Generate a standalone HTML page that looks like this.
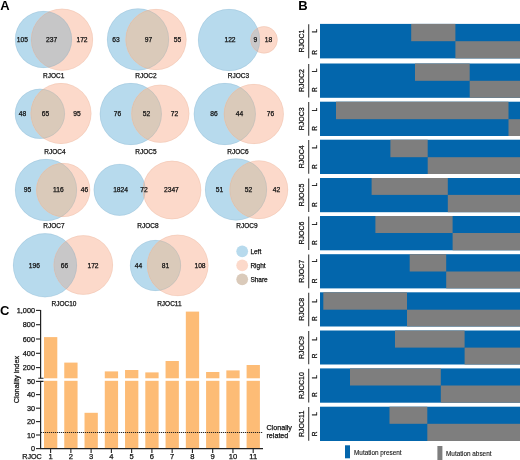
<!DOCTYPE html>
<html><head><meta charset="utf-8"><title>Figure</title>
<style>
html,body{margin:0;padding:0;background:#fff;overflow:hidden;}
#fig{width:520px;height:460px;overflow:hidden;position:relative;background:#fff;}
svg{display:block;filter:blur(0.35px);font-family:"Liberation Sans",Arial,sans-serif;}
text{fill:#111;stroke:#111;stroke-width:0.25px;}
.n{font-size:6.7px;text-anchor:middle;}
.l{font-size:6.5px;text-anchor:middle;}
.p{font-size:13px;font-weight:bold;fill:#000;stroke:none;}
.t{font-size:7.3px;text-anchor:end;}
.x{font-size:7.6px;text-anchor:middle;}
.r{font-size:7px;text-anchor:middle;}
.lr{font-size:6.5px;text-anchor:middle;}
</style></head><body>
<div id="fig"><svg width="530" height="470" viewBox="0 0 530 470">
<rect x="-5" y="-5" width="540" height="480" fill="#fff"/>
<defs>
<clipPath id="c0"><circle cx="43.5" cy="39.5" r="28.5"/></clipPath>
<clipPath id="c1"><circle cx="138" cy="39.4" r="31"/></clipPath>
<clipPath id="c2"><circle cx="229" cy="40" r="31"/></clipPath>
<clipPath id="c3"><circle cx="39.9" cy="113.8" r="25"/></clipPath>
<clipPath id="c4"><circle cx="130.8" cy="114" r="31"/></clipPath>
<clipPath id="c5"><circle cx="224.8" cy="114" r="31"/></clipPath>
<clipPath id="c6"><circle cx="46" cy="190" r="31"/></clipPath>
<clipPath id="c7"><circle cx="119.6" cy="189.8" r="25.9"/></clipPath>
<clipPath id="c8"><circle cx="236" cy="189.4" r="31"/></clipPath>
<clipPath id="c9"><circle cx="45" cy="265.3" r="32"/></clipPath>
<clipPath id="c10"><circle cx="155.5" cy="265.5" r="25.5"/></clipPath>
</defs>
<g>
<circle cx="43.5" cy="39.5" r="28.5" fill="#B7DAED"/>
<circle cx="62" cy="39.7" r="31" fill="#FCD9CA"/>
<circle cx="62" cy="39.7" r="31" fill="#C6C6C7" clip-path="url(#c0)"/>
<circle cx="43.5" cy="39.5" r="28.2" fill="none" stroke="rgba(110,150,180,0.28)" stroke-width="0.6"/>
<circle cx="62" cy="39.7" r="30.7" fill="none" stroke="rgba(215,150,120,0.28)" stroke-width="0.6"/>
<text class="n" x="22.4" y="42.1">105</text>
<text class="n" x="51.6" y="42.1">237</text>
<text class="n" x="82" y="42.1">172</text>
<text class="l" x="53.6" y="78.3">RJOC1</text>
</g>
<g>
<circle cx="138" cy="39.4" r="31" fill="#B7DAED"/>
<circle cx="156" cy="39.5" r="30.5" fill="#FCD9CA"/>
<circle cx="156" cy="39.5" r="30.5" fill="#DACABA" clip-path="url(#c1)"/>
<circle cx="138" cy="39.4" r="30.7" fill="none" stroke="rgba(110,150,180,0.28)" stroke-width="0.6"/>
<circle cx="156" cy="39.5" r="30.2" fill="none" stroke="rgba(215,150,120,0.28)" stroke-width="0.6"/>
<text class="n" x="116" y="42.1">63</text>
<text class="n" x="148.6" y="42.1">97</text>
<text class="n" x="177.4" y="42.1">55</text>
<text class="l" x="146" y="78.3">RJOC2</text>
</g>
<g>
<circle cx="229" cy="40" r="31" fill="#B7DAED"/>
<circle cx="264" cy="39.8" r="13.6" fill="#FCD9CA"/>
<circle cx="264" cy="39.8" r="13.6" fill="#CAC8C9" clip-path="url(#c2)"/>
<circle cx="229" cy="40" r="30.7" fill="none" stroke="rgba(110,150,180,0.28)" stroke-width="0.6"/>
<circle cx="264" cy="39.8" r="13.299999999999999" fill="none" stroke="rgba(215,150,120,0.28)" stroke-width="0.6"/>
<text class="n" x="230" y="42.1">122</text>
<text class="n" x="255.4" y="42.1">9</text>
<text class="n" x="268.4" y="42.1">18</text>
<text class="l" x="238.4" y="78.3">RJOC3</text>
</g>
<g>
<circle cx="39.9" cy="113.8" r="25" fill="#B7DAED"/>
<circle cx="61" cy="113.5" r="30.4" fill="#FCD9CA"/>
<circle cx="61" cy="113.5" r="30.4" fill="#DACABA" clip-path="url(#c3)"/>
<circle cx="39.9" cy="113.8" r="24.7" fill="none" stroke="rgba(110,150,180,0.28)" stroke-width="0.6"/>
<circle cx="61" cy="113.5" r="30.099999999999998" fill="none" stroke="rgba(215,150,120,0.28)" stroke-width="0.6"/>
<text class="n" x="22.4" y="116.1">48</text>
<text class="n" x="45.4" y="116.1">65</text>
<text class="n" x="77" y="116.1">95</text>
<text class="l" x="55" y="153.9">RJOC4</text>
</g>
<g>
<circle cx="130.8" cy="114" r="31" fill="#B7DAED"/>
<circle cx="160.3" cy="113.7" r="29" fill="#FCD9CA"/>
<circle cx="160.3" cy="113.7" r="29" fill="#DACABA" clip-path="url(#c4)"/>
<circle cx="130.8" cy="114" r="30.7" fill="none" stroke="rgba(110,150,180,0.28)" stroke-width="0.6"/>
<circle cx="160.3" cy="113.7" r="28.7" fill="none" stroke="rgba(215,150,120,0.28)" stroke-width="0.6"/>
<text class="n" x="117.6" y="116.1">76</text>
<text class="n" x="146.4" y="116.1">52</text>
<text class="n" x="174.4" y="116.1">72</text>
<text class="l" x="146" y="153.9">RJOC5</text>
</g>
<g>
<circle cx="224.8" cy="114" r="31" fill="#B7DAED"/>
<circle cx="253.8" cy="114" r="30" fill="#FCD9CA"/>
<circle cx="253.8" cy="114" r="30" fill="#DACABA" clip-path="url(#c5)"/>
<circle cx="224.8" cy="114" r="30.7" fill="none" stroke="rgba(110,150,180,0.28)" stroke-width="0.6"/>
<circle cx="253.8" cy="114" r="29.7" fill="none" stroke="rgba(215,150,120,0.28)" stroke-width="0.6"/>
<text class="n" x="214" y="116.1">86</text>
<text class="n" x="239.6" y="116.1">44</text>
<text class="n" x="270.4" y="116.1">76</text>
<text class="l" x="238" y="153.9">RJOC6</text>
</g>
<g>
<circle cx="46" cy="190" r="31" fill="#B7DAED"/>
<circle cx="63.2" cy="190" r="27" fill="#FCD9CA"/>
<circle cx="63.2" cy="190" r="27" fill="#DACABA" clip-path="url(#c6)"/>
<circle cx="46" cy="190" r="30.7" fill="none" stroke="rgba(110,150,180,0.28)" stroke-width="0.6"/>
<circle cx="63.2" cy="190" r="26.7" fill="none" stroke="rgba(215,150,120,0.28)" stroke-width="0.6"/>
<text class="n" x="27.4" y="192.1">95</text>
<text class="n" x="58.4" y="192.1">116</text>
<text class="n" x="84.4" y="192.1">46</text>
<text class="l" x="54" y="227.9">RJOC7</text>
</g>
<g>
<circle cx="119.6" cy="189.8" r="25.9" fill="#B7DAED"/>
<circle cx="172" cy="190" r="29.2" fill="#FCD9CA"/>
<circle cx="172" cy="190" r="29.2" fill="#D2CAC6" clip-path="url(#c7)"/>
<circle cx="119.6" cy="189.8" r="25.599999999999998" fill="none" stroke="rgba(110,150,180,0.28)" stroke-width="0.6"/>
<circle cx="172" cy="190" r="28.9" fill="none" stroke="rgba(215,150,120,0.28)" stroke-width="0.6"/>
<text class="n" x="120.6" y="192.1">1824</text>
<text class="n" x="144" y="192.1">72</text>
<text class="n" x="171.4" y="192.1">2347</text>
<text class="l" x="148" y="227.9">RJOC8</text>
</g>
<g>
<circle cx="236" cy="189.4" r="31" fill="#B7DAED"/>
<circle cx="258.8" cy="189.7" r="29.3" fill="#FCD9CA"/>
<circle cx="258.8" cy="189.7" r="29.3" fill="#DACABA" clip-path="url(#c8)"/>
<circle cx="236" cy="189.4" r="30.7" fill="none" stroke="rgba(110,150,180,0.28)" stroke-width="0.6"/>
<circle cx="258.8" cy="189.7" r="29.0" fill="none" stroke="rgba(215,150,120,0.28)" stroke-width="0.6"/>
<text class="n" x="219.6" y="192.1">51</text>
<text class="n" x="248.6" y="192.1">52</text>
<text class="n" x="276.4" y="192.1">42</text>
<text class="l" x="247" y="227.9">RJOC9</text>
</g>
<g>
<circle cx="45" cy="265.3" r="32" fill="#B7DAED"/>
<circle cx="83.3" cy="265" r="29.7" fill="#FCD9CA"/>
<circle cx="83.3" cy="265" r="29.7" fill="#C8C7C8" clip-path="url(#c9)"/>
<circle cx="45" cy="265.3" r="31.7" fill="none" stroke="rgba(110,150,180,0.28)" stroke-width="0.6"/>
<circle cx="83.3" cy="265" r="29.4" fill="none" stroke="rgba(215,150,120,0.28)" stroke-width="0.6"/>
<text class="n" x="34.4" y="267.5">196</text>
<text class="n" x="64.6" y="267.5">66</text>
<text class="n" x="93" y="267.5">172</text>
<text class="l" x="64" y="306.3">RJOC10</text>
</g>
<g>
<circle cx="155.5" cy="265.5" r="25.5" fill="#B7DAED"/>
<circle cx="177.7" cy="265.4" r="30.7" fill="#FCD9CA"/>
<circle cx="177.7" cy="265.4" r="30.7" fill="#DACABA" clip-path="url(#c10)"/>
<circle cx="155.5" cy="265.5" r="25.2" fill="none" stroke="rgba(110,150,180,0.28)" stroke-width="0.6"/>
<circle cx="177.7" cy="265.4" r="30.4" fill="none" stroke="rgba(215,150,120,0.28)" stroke-width="0.6"/>
<text class="n" x="138.6" y="267.5">44</text>
<text class="n" x="165.4" y="267.5">81</text>
<text class="n" x="200" y="267.5">108</text>
<text class="l" x="169.4" y="306.3">RJOC11</text>
</g>
<circle cx="242.2" cy="251.3" r="5.9" fill="#B7DAED"/>
<text x="250.4" y="253.60000000000002" style="font-size:6.5px">Left</text>
<circle cx="242.2" cy="265.3" r="5.9" fill="#FCD9CA"/>
<text x="250.4" y="267.6" style="font-size:6.5px">Right</text>
<circle cx="242.2" cy="279.3" r="5.9" fill="#DACABA"/>
<text x="250.4" y="281.6" style="font-size:6.5px">Share</text>
<text class="p" x="0.3" y="9.6">A</text>
<text class="p" x="298.2" y="9.6">B</text>
<text class="p" x="0" y="315.3">C</text>
<rect x="44.00" y="337.1" width="13.3" height="111.50" fill="#FDBC76"/>
<rect x="64.26" y="362.6" width="13.3" height="86.00" fill="#FDBC76"/>
<rect x="84.52" y="412.8" width="13.3" height="35.80" fill="#FDBC76"/>
<rect x="104.78" y="371.4" width="13.3" height="77.20" fill="#FDBC76"/>
<rect x="125.04" y="370" width="13.3" height="78.60" fill="#FDBC76"/>
<rect x="145.30" y="372.4" width="13.3" height="76.20" fill="#FDBC76"/>
<rect x="165.56" y="361" width="13.3" height="87.60" fill="#FDBC76"/>
<rect x="185.82" y="311.6" width="13.3" height="137.00" fill="#FDBC76"/>
<rect x="206.08" y="372" width="13.3" height="76.60" fill="#FDBC76"/>
<rect x="226.34" y="370.4" width="13.3" height="78.20" fill="#FDBC76"/>
<rect x="246.60" y="365" width="13.3" height="83.60" fill="#FDBC76"/>
<rect x="41.5" y="378.3" width="222" height="2.5" fill="#fff"/>
<path d="M40.6 309.9 V378.2 M40.6 381.3 V449.1 M40.1 448.6 H263" stroke="#222" stroke-width="1.2" fill="none"/>
<path d="M36 310.4 H40.6" stroke="#222" stroke-width="1.1"/>
<path d="M36 324.7 H40.6" stroke="#222" stroke-width="1.1"/>
<path d="M36 339 H40.6" stroke="#222" stroke-width="1.1"/>
<path d="M36 353.3 H40.6" stroke="#222" stroke-width="1.1"/>
<path d="M36 367.6 H40.6" stroke="#222" stroke-width="1.1"/>
<path d="M36 381.4 H40.6" stroke="#222" stroke-width="1.1"/>
<path d="M36 394.6 H40.6" stroke="#222" stroke-width="1.1"/>
<path d="M36 408.2 H40.6" stroke="#222" stroke-width="1.1"/>
<path d="M36 421.6 H40.6" stroke="#222" stroke-width="1.1"/>
<path d="M36 435 H40.6" stroke="#222" stroke-width="1.1"/>
<path d="M36 448.6 H40.6" stroke="#222" stroke-width="1.1"/>
<path d="M38.3 378.2 H43.5 M40 381.4 H43.5" stroke="#222" stroke-width="1.1"/>
<text class="t" x="35" y="313.0">1,000</text>
<text class="t" x="35" y="327.3">800</text>
<text class="t" x="35" y="341.6">600</text>
<text class="t" x="35" y="355.90000000000003">400</text>
<text class="t" x="35" y="370.20000000000005">200</text>
<text class="t" x="35" y="384.20000000000005">50</text>
<text class="t" x="35" y="397.20000000000005">40</text>
<text class="t" x="35" y="410.8">30</text>
<text class="t" x="35" y="424.20000000000005">20</text>
<text class="t" x="35" y="437.6">10</text>
<text class="t" x="35" y="451.20000000000005">0</text>
<path d="M50.60 448.6 V453" stroke="#222" stroke-width="1.1"/>
<text class="x" x="50.60" y="459.4">1</text>
<path d="M70.86 448.6 V453" stroke="#222" stroke-width="1.1"/>
<text class="x" x="70.86" y="459.4">2</text>
<path d="M91.12 448.6 V453" stroke="#222" stroke-width="1.1"/>
<text class="x" x="91.12" y="459.4">3</text>
<path d="M111.38 448.6 V453" stroke="#222" stroke-width="1.1"/>
<text class="x" x="111.38" y="459.4">4</text>
<path d="M131.64 448.6 V453" stroke="#222" stroke-width="1.1"/>
<text class="x" x="131.64" y="459.4">5</text>
<path d="M151.90 448.6 V453" stroke="#222" stroke-width="1.1"/>
<text class="x" x="151.90" y="459.4">6</text>
<path d="M172.16 448.6 V453" stroke="#222" stroke-width="1.1"/>
<text class="x" x="172.16" y="459.4">7</text>
<path d="M192.42 448.6 V453" stroke="#222" stroke-width="1.1"/>
<text class="x" x="192.42" y="459.4">8</text>
<path d="M212.68 448.6 V453" stroke="#222" stroke-width="1.1"/>
<text class="x" x="212.68" y="459.4">9</text>
<path d="M232.94 448.6 V453" stroke="#222" stroke-width="1.1"/>
<text class="x" x="232.94" y="459.4">10</text>
<path d="M253.20 448.6 V453" stroke="#222" stroke-width="1.1"/>
<text class="x" x="253.20" y="459.4">11</text>
<text x="22.2" y="459" style="font-size:7.2px">RJOC</text>
<text class="r" style="font-size:7.3px" transform="translate(18.9 379.6) rotate(-90)">Clonality index</text>
<path d="M41 432.5 H263" stroke="#111" stroke-width="0.9" stroke-dasharray="1.2 0.8"/>
<text x="266.4" y="430" style="font-size:7.2px">Clonally</text>
<text x="266.4" y="438.2" style="font-size:7.2px">related</text>
<rect x="320" y="23.9" width="212" height="34.50" fill="#0366AC"/>
<rect x="411.2" y="23.9" width="44.20" height="17.30" fill="#7E7E7E"/>
<rect x="455.4" y="41.2" width="76.60" height="17.20" fill="#7E7E7E"/>
<path d="M308.7 24.299999999999997 V58.199999999999996" stroke="#3c3c3c" stroke-width="1.1"/>
<text class="r" transform="translate(303.8 41.15) rotate(-90)">RJOC1</text>
<text class="lr" transform="translate(317.3 31.00) rotate(-90)">L</text>
<text class="lr" transform="translate(317.3 52.40) rotate(-90)">R</text>
<rect x="320" y="63.5" width="212" height="34.30" fill="#0366AC"/>
<rect x="415" y="63.5" width="54.70" height="17.30" fill="#7E7E7E"/>
<rect x="469.7" y="80.8" width="62.30" height="17.00" fill="#7E7E7E"/>
<path d="M308.7 63.9 V97.6" stroke="#3c3c3c" stroke-width="1.1"/>
<text class="r" transform="translate(303.8 80.65) rotate(-90)">RJOC2</text>
<text class="lr" transform="translate(317.3 70.40) rotate(-90)">L</text>
<text class="lr" transform="translate(317.3 89.60) rotate(-90)">R</text>
<rect x="320" y="101.7" width="212" height="34.30" fill="#0366AC"/>
<rect x="336" y="101.7" width="172.50" height="17.50" fill="#7E7E7E"/>
<rect x="508.5" y="119.2" width="23.50" height="16.80" fill="#7E7E7E"/>
<path d="M308.7 102.10000000000001 V135.8" stroke="#3c3c3c" stroke-width="1.1"/>
<text class="r" transform="translate(303.8 118.85) rotate(-90)">RJOC3</text>
<text class="lr" transform="translate(317.3 109.60) rotate(-90)">L</text>
<text class="lr" transform="translate(317.3 128.40) rotate(-90)">R</text>
<rect x="320" y="139.7" width="212" height="34.30" fill="#0366AC"/>
<rect x="390.4" y="139.7" width="37.30" height="17.50" fill="#7E7E7E"/>
<rect x="427.7" y="157.2" width="104.30" height="16.80" fill="#7E7E7E"/>
<path d="M308.7 140.1 V173.8" stroke="#3c3c3c" stroke-width="1.1"/>
<text class="r" transform="translate(303.8 156.85) rotate(-90)">RJOC4</text>
<text class="lr" transform="translate(317.3 147.00) rotate(-90)">L</text>
<text class="lr" transform="translate(317.3 166.60) rotate(-90)">R</text>
<rect x="320" y="178" width="212" height="34.20" fill="#0366AC"/>
<rect x="371.6" y="178" width="76.20" height="16.90" fill="#7E7E7E"/>
<rect x="447.8" y="194.9" width="84.20" height="17.30" fill="#7E7E7E"/>
<path d="M308.7 178.4 V212.0" stroke="#3c3c3c" stroke-width="1.1"/>
<text class="r" transform="translate(303.8 195.10) rotate(-90)">RJOC5</text>
<text class="lr" transform="translate(317.3 184.60) rotate(-90)">L</text>
<text class="lr" transform="translate(317.3 204.60) rotate(-90)">R</text>
<rect x="320" y="216" width="212" height="34.30" fill="#0366AC"/>
<rect x="375.4" y="216" width="77.20" height="17.00" fill="#7E7E7E"/>
<rect x="452.6" y="233" width="79.40" height="17.30" fill="#7E7E7E"/>
<path d="M308.7 216.4 V250.10000000000002" stroke="#3c3c3c" stroke-width="1.1"/>
<text class="r" transform="translate(303.8 233.15) rotate(-90)">RJOC6</text>
<text class="lr" transform="translate(317.3 223.60) rotate(-90)">L</text>
<text class="lr" transform="translate(317.3 242.60) rotate(-90)">R</text>
<rect x="320" y="254.2" width="212" height="34.20" fill="#0366AC"/>
<rect x="409.7" y="254.2" width="36.50" height="17.30" fill="#7E7E7E"/>
<rect x="446.2" y="271.5" width="85.80" height="16.90" fill="#7E7E7E"/>
<path d="M308.7 254.6 V288.2" stroke="#3c3c3c" stroke-width="1.1"/>
<text class="r" transform="translate(303.8 271.30) rotate(-90)">RJOC7</text>
<text class="lr" transform="translate(317.3 260.60) rotate(-90)">L</text>
<text class="lr" transform="translate(317.3 281.00) rotate(-90)">R</text>
<rect x="320" y="292.3" width="212" height="34.20" fill="#0366AC"/>
<rect x="323.3" y="292.3" width="83.70" height="17.40" fill="#7E7E7E"/>
<rect x="407" y="309.7" width="125.00" height="16.80" fill="#7E7E7E"/>
<path d="M308.7 292.7 V326.3" stroke="#3c3c3c" stroke-width="1.1"/>
<text class="r" transform="translate(303.8 309.40) rotate(-90)">RJOC8</text>
<text class="lr" transform="translate(317.3 301.00) rotate(-90)">L</text>
<text class="lr" transform="translate(317.3 318.60) rotate(-90)">R</text>
<rect x="320" y="330.5" width="212" height="34.00" fill="#0366AC"/>
<rect x="395" y="330.5" width="69.60" height="17.10" fill="#7E7E7E"/>
<rect x="464.6" y="347.6" width="67.40" height="16.90" fill="#7E7E7E"/>
<path d="M308.7 330.9 V364.3" stroke="#3c3c3c" stroke-width="1.1"/>
<text class="r" transform="translate(303.8 347.50) rotate(-90)">RJOC9</text>
<text class="lr" transform="translate(317.3 339.00) rotate(-90)">L</text>
<text class="lr" transform="translate(317.3 356.00) rotate(-90)">R</text>
<rect x="320" y="368.4" width="212" height="34.30" fill="#0366AC"/>
<rect x="350" y="368.4" width="90.80" height="17.10" fill="#7E7E7E"/>
<rect x="440.8" y="385.5" width="91.20" height="17.20" fill="#7E7E7E"/>
<path d="M308.7 368.79999999999995 V402.5" stroke="#3c3c3c" stroke-width="1.1"/>
<text class="r" transform="translate(303.8 385.55) rotate(-90)">RJOC10</text>
<text class="lr" transform="translate(317.3 377.00) rotate(-90)">L</text>
<text class="lr" transform="translate(317.3 394.60) rotate(-90)">R</text>
<rect x="320" y="406.7" width="212" height="34.30" fill="#0366AC"/>
<rect x="389.5" y="406.7" width="37.80" height="17.10" fill="#7E7E7E"/>
<rect x="427.3" y="423.8" width="104.70" height="17.20" fill="#7E7E7E"/>
<path d="M308.7 407.09999999999997 V440.8" stroke="#3c3c3c" stroke-width="1.1"/>
<text class="r" transform="translate(303.8 423.85) rotate(-90)">RJOC11</text>
<text class="lr" transform="translate(317.3 414.00) rotate(-90)">L</text>
<text class="lr" transform="translate(317.3 434.00) rotate(-90)">R</text>
<rect x="345" y="445.3" width="5" height="13" fill="#0366AC"/>
<text x="354" y="454.5" style="font-size:6.4px;stroke-width:0.1px">Mutation present</text>
<rect x="437.4" y="446" width="5" height="14" fill="#7E7E7E"/>
<text x="446" y="455.9" style="font-size:6.4px;stroke-width:0.1px">Mutation absent</text>
</svg></div></body></html>
